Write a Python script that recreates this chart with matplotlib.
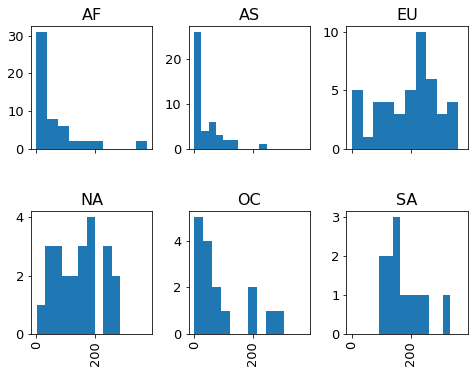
import matplotlib
matplotlib.use('Agg')
from matplotlib import pyplot as plt
import numpy as np


CONTINENTS = ['AF', 'AS', 'EU', 'NA', 'OC', 'SA']
# min / max of beer servings in each group, the 10 bins span this range
LOWS = [0, 0, 0, 1, 0, 93]
HIGHS = [376, 247, 361, 285, 306, 333]
COUNTS = [
    [31, 8, 6, 2, 2, 2, 0, 0, 0, 2],
    [26, 4, 6, 3, 2, 2, 0, 0, 0, 1],
    [5, 1, 4, 4, 3, 5, 10, 6, 3, 4],
    [1, 3, 3, 2, 2, 3, 4, 0, 3, 2],
    [5, 4, 2, 1, 0, 0, 2, 0, 1, 1],
    [2, 2, 3, 1, 1, 1, 1, 0, 0, 1],
]
YTICKS = [[0, 10, 20, 30], [0, 10, 20], [0, 5, 10],
          [0, 2, 4], [0, 2, 4], [0, 1, 2, 3]]

fig, axes = plt.subplots(2, 3, figsize=(474 / 72, 372 / 72), dpi=72, sharex=True)
fig.subplots_adjust(left=0.065, right=0.987, top=0.93, bottom=0.102,
                    wspace=0.3, hspace=0.51)

for ax, name, lo, hi, cnt, yt in zip(axes.flat, CONTINENTS, LOWS, HIGHS, COUNTS, YTICKS):
    edges = np.linspace(lo, hi, 11)
    mids = (edges[:-1] + edges[1:]) / 2
    ax.hist(mids, bins=edges, weights=cnt, color='#1f77b4')
    ax.set_title(name, fontsize=16)
    ax.set_yticks(yt)
    ax.tick_params(labelsize=13)

for ax in axes[1]:
    ax.set_xticks([0, 200])
    for lab in ax.get_xticklabels():
        lab.set_rotation(90)

plt.savefig('out.png')
